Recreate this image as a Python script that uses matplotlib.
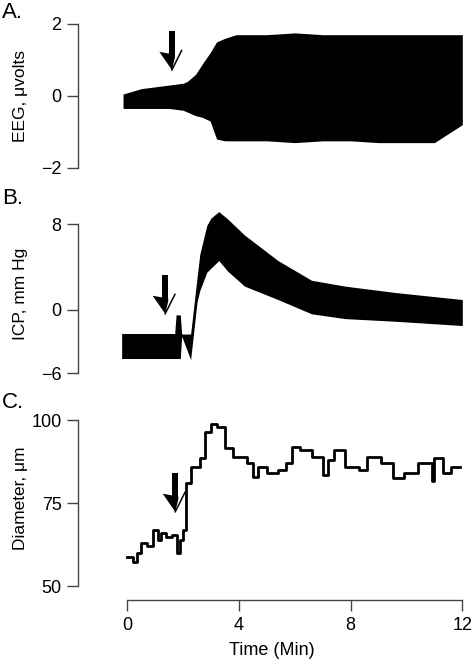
import matplotlib
matplotlib.use("Agg")
import matplotlib.pyplot as plt
from matplotlib.patches import Polygon
from matplotlib.transforms import ScaledTranslation

plt.rcParams['font.family'] = ['Liberation Sans', 'DejaVu Sans']
plt.rcParams['font.size'] = 13

# EEG envelope (time in min, upper, lower)
eeg_t = [-0.15, 0.5, 1.0, 1.5, 2.0, 2.15, 2.45, 2.7, 2.97, 3.2, 3.5, 3.9, 5.0, 6.0, 7.0, 8.0, 9.0, 10.0, 11.0, 12.0]
eeg_hi = [0.05, 0.2, 0.25, 0.3, 0.35, 0.4, 0.6, 0.9, 1.2, 1.5, 1.6, 1.7, 1.7, 1.75, 1.7, 1.7, 1.7, 1.7, 1.7, 1.7]
eeg_lo = [-0.35, -0.35, -0.35, -0.35, -0.4, -0.45, -0.55, -0.6, -0.7, -1.2, -1.25, -1.25, -1.25, -1.3, -1.25, -1.25, -1.3, -1.3, -1.3, -0.8]

# ICP envelope
icp_t = [-0.2, 0.5, 1.0, 1.7, 1.75, 1.9, 1.95, 2.27, 2.5, 2.6, 2.85, 3.0, 3.28, 3.6, 4.2, 5.4, 6.6, 7.8, 9.6, 12.0]
icp_hi = [-2.25, -2.25, -2.25, -2.25, -0.5, -0.5, -2.3, -2.3, 3.0, 5.2, 7.9, 8.6, 9.2, 8.5, 7.0, 4.6, 2.75, 2.2, 1.6, 0.94]
icp_lo = [-4.6, -4.6, -4.6, -4.6, -4.6, -4.6, -2.5, -4.7, 0.7, 1.8, 3.5, 3.9, 4.6, 3.6, 2.2, 0.94, -0.4, -0.85, -1.1, -1.5]

# Diameter (step trace)
dia_t = [0.0, 0.2, 0.35, 0.5, 0.7, 0.93, 1.1, 1.2, 1.4, 1.6, 1.8, 1.9, 2.0, 2.1, 2.3, 2.6, 2.8, 3.0, 3.2, 3.5, 3.8, 4.3, 4.5,
         4.7, 5.0, 5.4, 5.7, 5.9, 6.2, 6.6, 7.0, 7.2, 7.4, 7.8, 8.3, 8.6, 9.1, 9.5, 9.9, 10.4, 10.9, 11.0, 11.3, 11.6, 11.9]
dia_v = [58.8, 57.3, 60, 63, 62, 66.9, 64, 66, 64.9, 65.5, 60, 64, 67, 81, 86, 88.6, 96.5, 99, 98, 91.5, 89, 87, 83,
         86, 84, 85, 87, 92, 91, 89, 83.5, 88, 91, 86, 85, 89, 87, 82.5, 84, 87, 81.8, 88.5, 84, 86, 86]

# arrow tips (time, value) per panel
arrow_tips = {'A': (1.6, 0.72), 'B': (1.36, -0.4), 'C': (1.72, 72.4)}

fig = plt.figure(figsize=(4.74, 6.68), dpi=100)
L, W = 0.165, 0.8186
axA = fig.add_axes([L, 0.738, W, 0.237])
axB = fig.add_axes([L, 0.433, W, 0.255])
axC = fig.add_axes([L, 0.1018, W, 0.279])

for ax in (axA, axB, axC):
    ax.set_xlim(-1.755, 12.14)
    for s in ('top', 'right'):
        ax.spines[s].set_visible(False)
    ax.tick_params(direction='out', length=8, width=1, color='#444444', pad=4)
    ax.spines['left'].set_linewidth(1)
    ax.spines['left'].set_color('#444444')
for ax in (axA, axB):
    ax.spines['bottom'].set_visible(False)
    ax.set_xticks([])

axA.fill_between(eeg_t, eeg_hi, eeg_lo, color='black', linewidth=0)
axA.set_ylim(-2.2, 2.2)
axA.set_yticks([-2, 0, 2])
axA.spines['left'].set_bounds(-2, 2)
axA.set_ylabel('EEG, \u03bcvolts', fontsize=12.5)
axA.yaxis.set_label_coords(-0.13, 0.5)

axB.fill_between(icp_t, icp_hi, icp_lo, color='black', linewidth=0)
axB.set_ylim(-6.5, 9.5)
axB.set_yticks([-6, 0, 8])
axB.spines['left'].set_bounds(-6, 8)
axB.set_ylabel('ICP, mm Hg', fontsize=12.5)
axB.yaxis.set_label_coords(-0.13, 0.5)

axC.step(dia_t, dia_v, where='post', color='black', linewidth=2)
axC.set_ylim(45.8, 102)
axC.set_yticks([50, 75, 100])
axC.spines['left'].set_bounds(50, 100)
axC.set_xticks([0, 4, 8, 12])
axC.spines['bottom'].set_bounds(0, 12)
axC.spines['bottom'].set_linewidth(1)
axC.spines['bottom'].set_color('#444444')
axC.set_xlabel('Time (Min)', labelpad=6)
axC.set_ylabel('Diameter, \u03bcm', fontsize=12.5)
axC.yaxis.set_label_coords(-0.13, 0.547)

def arrow(ax, tip):
    # shape in points, relative to the tip
    tr = fig.dpi_scale_trans + ScaledTranslation(0, 0, ax.transData)
    tr = ScaledTranslation(tip[0], tip[1], ax.transData)
    base = fig.dpi_scale_trans + tr
    s = 1 / 72.0
    shaft = [(-2.2, 9), (2.2, 9), (2.2, 28), (-2.2, 28)]
    head = [(0, 0), (-9, 13), (2.2, 11), (2.2, 9)]
    for pts in (shaft, head):
        ax.add_patch(Polygon([(px * s, py * s) for px, py in pts], closed=True,
                             transform=base, color='black', lw=0, zorder=5))
    ax.plot([0, 7 * s], [0, 14 * s], transform=base, color='black', lw=1.1, zorder=5)

arrow(axA, arrow_tips['A'])
arrow(axB, arrow_tips['B'])
arrow(axC, arrow_tips['C'])

fig.text(0.004, 0.982, 'A.', fontsize=16, va='center')
fig.text(0.004, 0.703, 'B.', fontsize=16, va='center')
fig.text(0.004, 0.397, 'C.', fontsize=16, va='center')

fig.savefig('out.png', dpi=100)
